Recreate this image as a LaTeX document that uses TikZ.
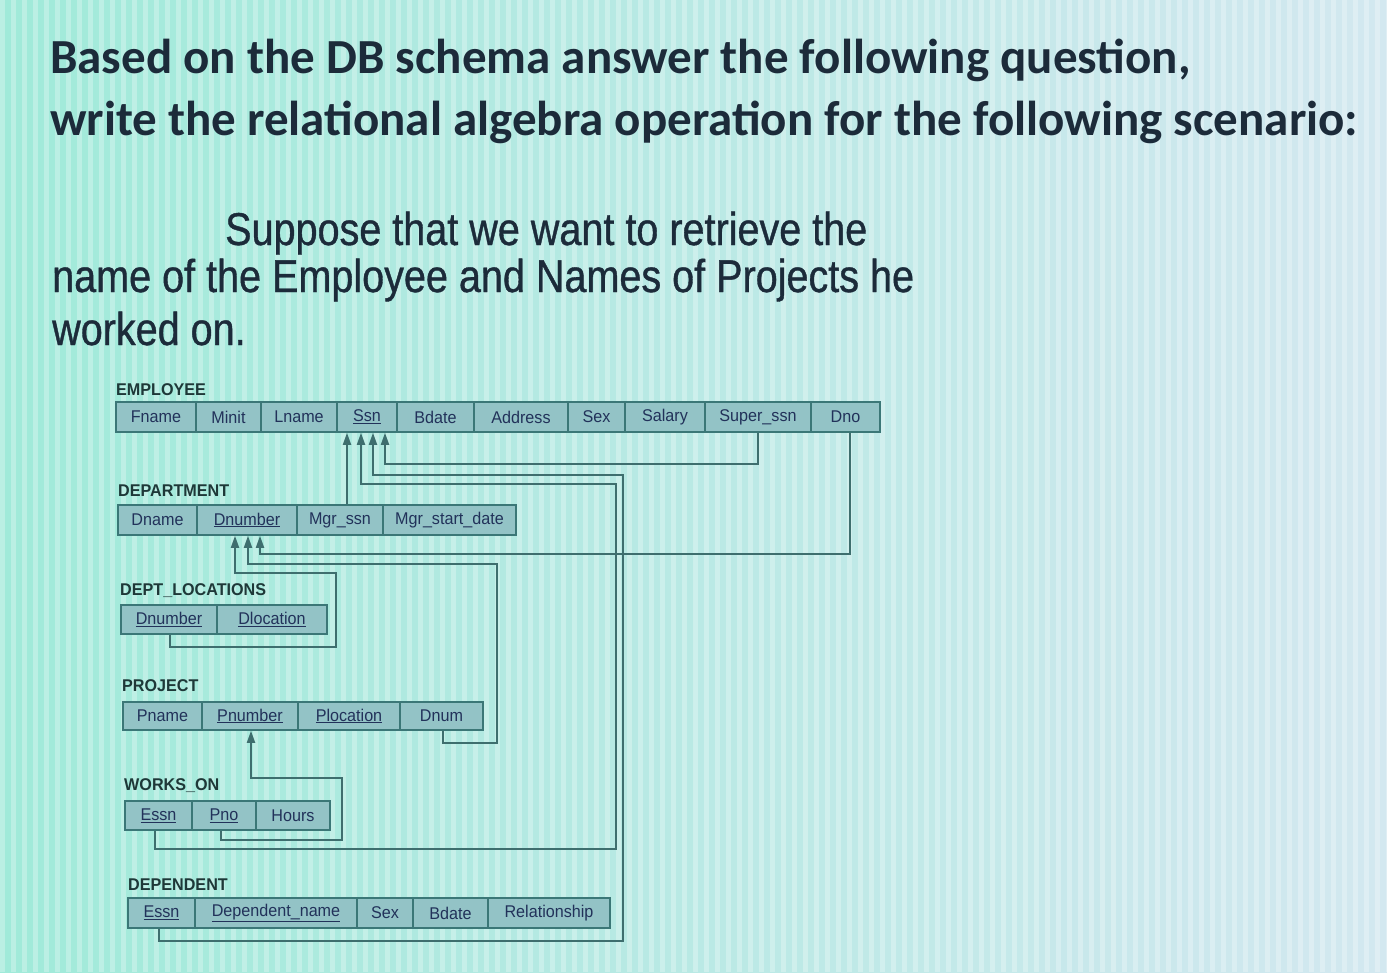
\documentclass[tikz,border=0pt]{standalone}
\usepackage{fontspec}
\setmainfont{Liberation Sans}
\newfontfamily\titlefont{Carlito}
\newfontfamily\bodyfont[FakeStretch=0.86,FakeBold=0.8]{Liberation Sans}
\newfontfamily\cellfont[FakeStretch=0.95]{Liberation Sans}
\usetikzlibrary{arrows.meta}
\definecolor{bgL}{HTML}{A0EAD9}
\definecolor{bgR}{HTML}{D3E8F0}
\definecolor{ink}{HTML}{1C2B3A}
\definecolor{cellfill}{HTML}{93C3C6}
\definecolor{celldraw}{HTML}{3B7777}
\definecolor{celltext}{HTML}{22325A}
\definecolor{wire}{HTML}{3E6E6E}
\definecolor{lbl}{HTML}{1E3838}
\tikzset{
 cellbox/.style={draw=celldraw, fill=cellfill, line width=1.6pt, inner sep=0pt, text=celltext, font=\cellfont\fontsize{17}{17}\selectfont},
 tablabel/.style={anchor=base west, inner sep=0pt, text=lbl, font=\cellfont\bfseries\fontsize{17}{17}\selectfont},
 fk/.style={draw=wire, line width=1.8pt, -{Triangle[width=8pt,length=12pt]}},
 headline/.style={anchor=base west, inner sep=0pt, text=ink, font=\titlefont\bfseries\fontsize{49}{49}\selectfont},
 bodyline/.style={anchor=base west, inner sep=0pt, text=ink, font=\bodyfont\fontsize{46}{46}\selectfont},
 stripe/.style={fill=white, opacity=0.28},
}
\newcommand{\tcell}[6]{\node[cellbox, minimum width={(#3)-(#2)}, minimum height={(#5)-(#4)}] (#1) at ({((#2)+(#3))/2},{((#4)+(#5))/2}) {#6};}
\begin{document}
\begin{tikzpicture}[x=1pt,y=-1pt]
\useasboundingbox (0,0) rectangle (1387,972);
\shade[left color=bgL, right color=bgR] (0,0) rectangle (1387,972);
\foreach \i in {0,...,126} {\fill[stripe] (\i*11,0) rectangle ++(5,972);}
% texts
\node[headline] (h1) at (50,73) {Based on the DB schema answer the following question,};
\node[headline] (h2) at (50,135) {write the relational algebra operation for the following scenario:};
\node[bodyline] (b1) at (225,245) {Suppose that we want to retrieve the};
\node[bodyline] (b2) at (52,292) {name of the Employee and Names of Projects he};
\node[bodyline] (b3) at (52,345) {worked on.};
% table labels
\node[tablabel] (LE) at (116,395) {EMPLOYEE};
\node[tablabel] (LD) at (118,496) {DEPARTMENT};
\node[tablabel] (LL) at (120,595) {DEPT\_LOCATIONS};
\node[tablabel] (LP) at (122,691) {PROJECT};
\node[tablabel] (LW) at (124,790) {WORKS\_ON};
\node[tablabel] (LT) at (128,890) {DEPENDENT};
% EMPLOYEE
\tcell{eFn}{116}{196}{402}{432}{Fname}
\tcell{eMi}{196}{261}{402}{432}{Minit}
\tcell{eLn}{261}{337}{402}{432}{Lname}
\tcell{eSsn}{337}{397}{402}{432}{\underline{Ssn}}
\tcell{eBd}{397}{474}{402}{432}{Bdate}
\tcell{eAd}{474}{568}{402}{432}{Address}
\tcell{eSex}{568}{625}{402}{432}{Sex}
\tcell{eSal}{625}{705}{402}{432}{Salary}
\tcell{eSup}{705}{811}{402}{432}{Super\_ssn}
\tcell{eDno}{811}{880}{402}{432}{Dno}
% DEPARTMENT
\tcell{dDn}{118}{197}{505}{535}{Dname}
\tcell{dDnum}{197}{297}{505}{535}{\underline{Dnumber}}
\tcell{dMgr}{297}{383}{505}{535}{Mgr\_ssn}
\tcell{dMsd}{383}{516}{505}{535}{Mgr\_start\_date}
% DEPT_LOCATIONS
\tcell{lDnum}{121}{217}{605}{634}{\underline{Dnumber}}
\tcell{lLoc}{217}{327}{605}{634}{\underline{Dlocation}}
% PROJECT
\tcell{pName}{123}{202}{702}{730}{Pname}
\tcell{pPnum}{202}{298}{702}{730}{\underline{Pnumber}}
\tcell{pLoc}{298}{400}{702}{730}{\underline{Plocation}}
\tcell{pDnum}{400}{483}{702}{730}{Dnum}
% WORKS_ON
\tcell{wEssn}{125}{192}{801}{830}{\underline{Essn}}
\tcell{wPno}{192}{256}{801}{830}{\underline{Pno}}
\tcell{wHrs}{256}{330}{801}{830}{Hours}
% DEPENDENT
\tcell{tEssn}{128}{195}{898}{928}{\underline{Essn}}
\tcell{tName}{195}{357}{898}{928}{\underline{Dependent\_name}}
\tcell{tSex}{357}{413}{898}{928}{Sex}
\tcell{tBd}{413}{488}{898}{928}{Bdate}
\tcell{tRel}{488}{610}{898}{928}{Relationship}
% lane x positions
\coordinate (xa1) at (347,0);
\coordinate (xa2) at (361,0);
\coordinate (xa3) at (373,0);
\coordinate (xa4) at (385,0);
\coordinate (xd1) at (235,0);
\coordinate (xd2) at (248,0);
\coordinate (xd3) at (260,0);
\coordinate (xp1) at (251,0);
\coordinate (xw) at (155,0);
\coordinate (xt) at (159,0);
\coordinate (xsup) at (758,0);
\coordinate (xdno) at (850,0);
\coordinate (xpd) at (443,0);
\coordinate (xld) at (170,0);
\coordinate (xpno) at (221,0);
% connectors
\draw[fk] (xa1 |- dMgr.north) -- (xa1 |- eSsn.south);
\draw[fk] (xw |- wEssn.south) -- (155,849) -- (616,849) -- (616,484) -- (361,484) -- (xa2 |- eSsn.south);
\draw[fk] (xt |- tEssn.south) -- (159,941) -- (623,941) -- (623,475) -- (373,475) -- (xa3 |- eSsn.south);
\draw[fk] (xsup |- eSup.south) -- (758,464) -- (385,464) -- (xa4 |- eSsn.south);
\draw[fk] (xdno |- eDno.south) -- (850,554) -- (260,554) -- (xd3 |- dDnum.south);
\draw[fk] (xpd |- pDnum.south) -- (443,743) -- (497,743) -- (497,564) -- (248,564) -- (xd2 |- dDnum.south);
\draw[fk] (xld |- lDnum.south) -- (170,647) -- (336,647) -- (336,573) -- (235,573) -- (xd1 |- dDnum.south);
\draw[fk] (xpno |- wPno.south) -- (221,840) -- (342,840) -- (342,778) -- (251,778) -- (xp1 |- pPnum.south);
\end{tikzpicture}
\end{document}
